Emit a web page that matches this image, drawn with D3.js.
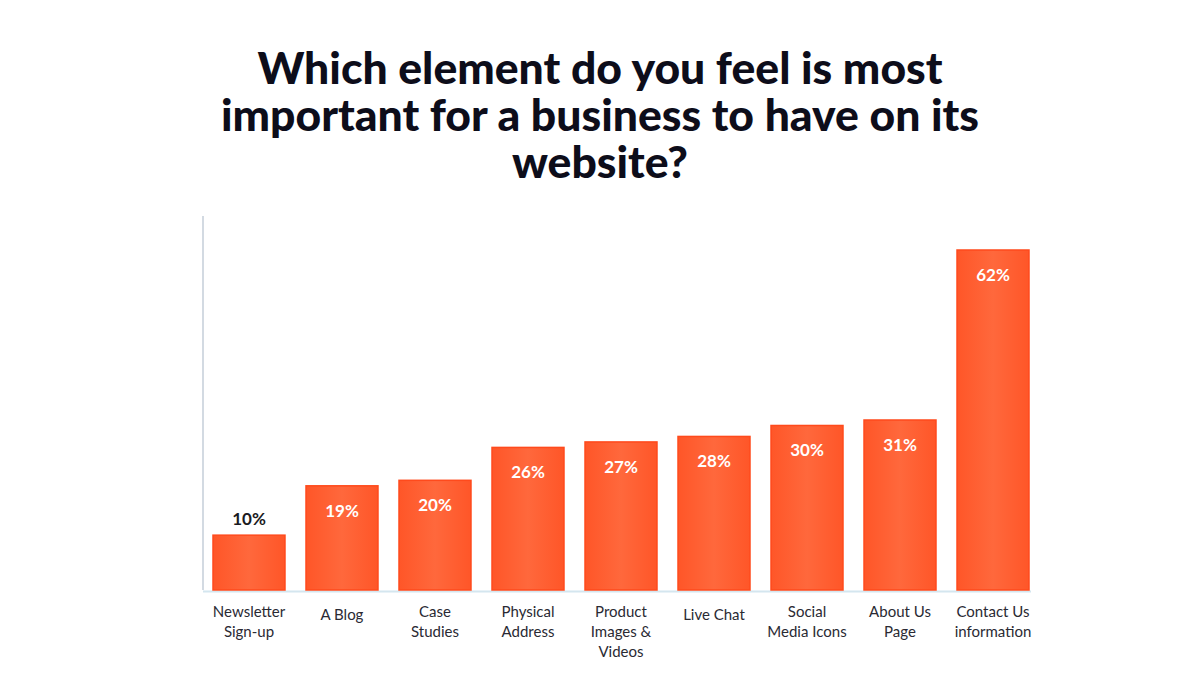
<!DOCTYPE html>
<html>
<head>
<meta charset="UTF-8"/>
<title>Most important website element</title>
<script src="https://cdn.jsdelivr.net/npm/d3@7"></script>
<style>
body { margin: 0; background: #fff; }
svg { display: block; }
text.title { font-family: Lato, 'Open Sans', sans-serif; font-size: 44.5px; font-weight: 900; fill: #0d0d1a; }
text.cat { font-family: Lato, 'Open Sans', sans-serif; font-size: 15px; fill: #2a2a33; }
text.value { font-family: Lato, 'Open Sans', sans-serif; font-size: 17px; font-weight: 700; }
</style>
</head>
<body>
<svg width="1200" height="689"></svg>
<script>
const categories = [
  ['Newsletter', 'Sign-up'],
  ['A Blog'],
  ['Case', 'Studies'],
  ['Physical', 'Address'],
  ['Product', 'Images &', 'Videos'],
  ['Live Chat'],
  ['Social', 'Media Icons'],
  ['About Us', 'Page'],
  ['Contact Us', 'information']
];
const values = [10, 19, 20, 26, 27, 28, 30, 31, 62];
const titleLines = [
  'Which element do you feel is most',
  'important for a business to have on its',
  'website?'
];

const svg = d3.select('svg');

const data = categories.map((c, i) => ({ key: c.join(' '), lines: c, value: values[i] }));

const x = d3.scaleBand()
  .domain(data.map(d => d.key))
  .range([213, 1029])
  .paddingInner(0.226)
  .paddingOuter(0);

const y = d3.scaleLinear()
  .domain([0, 62])
  .range([590, 250]);

// bar gradient, darker at the edges
const defs = svg.append('defs');
const grad = defs.append('linearGradient').attr('id', 'barGrad')
  .attr('x1', 0).attr('x2', 1).attr('y1', 0).attr('y2', 0);
grad.append('stop').attr('offset', '0%').attr('stop-color', '#ff5628');
grad.append('stop').attr('offset', '50%').attr('stop-color', '#ff683c');
grad.append('stop').attr('offset', '100%').attr('stop-color', '#ff5628');

// title
svg.append('text')
  .attr('class', 'title')
  .attr('text-anchor', 'middle')
  .selectAll('tspan')
  .data(titleLines)
  .enter()
  .append('tspan')
  .attr('x', 600)
  .attr('y', (d, i) => 84 + i * 47)
  .text(d => d);

// axis lines
svg.append('line')
  .attr('x1', 203).attr('x2', 203)
  .attr('y1', 216).attr('y2', y(0))
  .attr('stroke', '#d3dae2').attr('stroke-width', 2);

svg.append('line')
  .attr('x1', 203).attr('x2', 1031)
  .attr('y1', y(0) + 1.5).attr('y2', y(0) + 1.5)
  .attr('stroke', '#d4e6ef').attr('stroke-width', 2);

const bars = svg.selectAll('g.bar')
  .data(data)
  .enter()
  .append('g')
  .attr('class', 'bar');

bars.append('rect')
  .attr('x', d => x(d.key))
  .attr('y', d => y(d.value))
  .attr('width', x.bandwidth())
  .attr('height', d => y(0) - y(d.value))
  .attr('fill', 'url(#barGrad)')
  .attr('stroke', '#ff4a1c')
  .attr('stroke-width', 1.5);

// short bars get their label above
const small = d => y(0) - y(d.value) < 60;

bars.append('text')
  .attr('class', 'value')
  .attr('text-anchor', 'middle')
  .attr('x', d => x(d.key) + x.bandwidth() / 2)
  .attr('y', d => small(d) ? y(d.value) - 10 : y(d.value) + 31)
  .attr('fill', d => small(d) ? '#1a1a22' : '#fff')
  .text(d => d.value + '%');

const labels = bars.append('text')
  .attr('class', 'cat')
  .attr('text-anchor', 'middle');

labels.selectAll('tspan')
  .data(d => d.lines.map(l => ({ l, d })))
  .enter()
  .append('tspan')
  .attr('x', t => x(t.d.key) + x.bandwidth() / 2)
  .attr('y', (t, i) => (t.d.lines.length === 1 ? 620 : 617) + i * 20)
  .text(t => t.l);
</script>
</body>
</html>
